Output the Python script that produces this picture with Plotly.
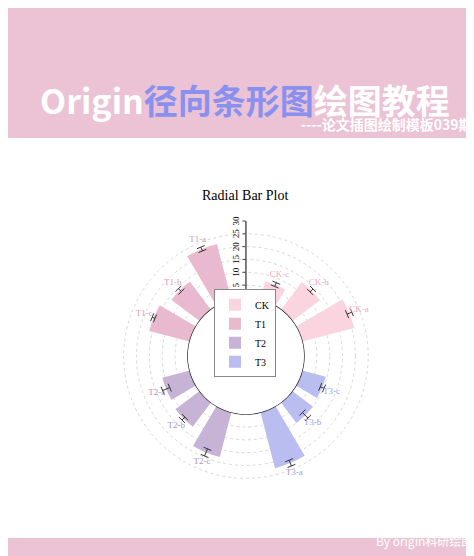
import plotly.graph_objects as go

groups = ["CK", "T3", "T2", "T1"]
labels = {"CK": ["CK-c", "CK-b", "CK-a"], "T3": ["T3-c", "T3-b", "T3-a"],
          "T2": ["T2-c", "T2-b", "T2-a"], "T1": ["T1-c", "T1-b", "T1-a"]}
values = {"CK": [7.5, 13.5, 21.0], "T3": [9.5, 10.0, 22.5],
          "T2": [18.0, 11.8, 11.0], "T1": [16.3, 13.7, 22.5]}
errors = {"CK": [0.8, 0.8, 1.0], "T3": [0.8, 1.5, 1.2],
          "T2": [1.5, 0.8, 1.5], "T1": [0.6, 0.8, 0.8]}
thetas = {"CK": [22.5, 45, 67.5], "T3": [112.5, 135, 157.5],
          "T2": [202.5, 225, 247.5], "T1": [292.5, 315, 337.5]}
group_theta = {"CK": 45, "T3": 135, "T2": 225, "T1": 315}
legend_order = ["CK", "T1", "T2", "T3"]
colors = {"CK": "#fad4df", "T1": "#e9b9cf", "T2": "#c7b3d6", "T3": "#babdf0"}
text_colors = {"CK": "#f0a8bf", "T1": "#d99ab8", "T2": "#a996c0", "T3": "#9a9fe0"}

fig = go.Figure()
for g in legend_order:
    fig.add_trace(go.Barpolar(r=values[g], theta=thetas[g], width=[16]*3, name=g,
                              marker=dict(color=colors[g], line=dict(width=0)),
                              opacity=1))
for g in groups:
    for th, v, e in zip(thetas[g], values[g], errors[g]):
        fig.add_trace(go.Scatterpolar(r=[v - e, v + e], theta=[th, th], mode="lines+markers",
                                      line=dict(color="#333", width=1),
                                      marker=dict(symbol="line-ew-open", size=6, angle=th,
                                                  line=dict(color="#333", width=1)),
                                      showlegend=False, hoverinfo="skip"))
    fig.add_trace(go.Scatterpolar(r=[v + 4 for v in values[g]], theta=thetas[g], mode="text",
                                  text=labels[g], textfont=dict(family="Liberation Serif", size=9,
                                                                color=text_colors[g]),
                                  showlegend=False, cliponaxis=False))
    fig.add_trace(go.Scatterpolar(r=[45], theta=[group_theta[g]], mode="text", text=[g],
                                  textfont=dict(family="Liberation Serif", size=13, color="black"),
                                  showlegend=False, cliponaxis=False))
circle_theta = list(range(0, 361, 2))
fig.add_trace(go.Scatterpolar(r=[0]*len(circle_theta), theta=circle_theta, mode="lines",
                              line=dict(color="#222", width=1.3), showlegend=False, hoverinfo="skip"))

fig.update_layout(
    width=474, height=556, margin=dict(l=0, r=0, t=0, b=0),
    paper_bgcolor="white", plot_bgcolor="white",
    font=dict(family="Liberation Serif", color="black"),
    polar=dict(
        domain=dict(x=[0.217, 0.787], y=[0.131, 0.617]),
        hole=0.43, bgcolor="white",
        radialaxis=dict(range=[0, 30], tickvals=[0, 5, 10, 15, 20, 25, 30], angle=90, tickangle=0,
                        side="counterclockwise", showline=True, linecolor="black", linewidth=1,
                        ticks="outside", ticklen=3, tickfont=dict(size=9, family="Liberation Serif"),
                        gridcolor="#d8d8d8", griddash="dot", showgrid=True),
        angularaxis=dict(rotation=90, direction="clockwise", showticklabels=False, ticks="",
                         showline=False, showgrid=False),
    ),
    legend=dict(x=0.5, y=0.415, xanchor="center", yanchor="middle", bordercolor="#888",
                borderwidth=1, bgcolor="white", font=dict(size=10, family="Liberation Serif"),
                itemwidth=30, tracegroupgap=0),
    shapes=[
        dict(type="rect", xref="paper", yref="paper", x0=0, x1=1, y0=1 - 130/556, y1=1,
             fillcolor="#ebc3d5", line=dict(width=0), layer="below"),
        dict(type="rect", xref="paper", yref="paper", x0=0, x1=1, y0=0, y1=26/556,
             fillcolor="#ebc3d5", line=dict(width=0), layer="below"),
    ],
    annotations=[
        dict(xref="paper", yref="paper", x=0.5, y=1 - 65/556, showarrow=False,
             text="<b><span style='color:white'>Origin</span><span style='color:#8a90ee'>径向条形图</span><span style='color:white'>绘图教程</span></b>",
             font=dict(size=34, family="Noto Sans CJK SC")),
        dict(xref="paper", yref="paper", x=0.985, y=1 - 104/556, xanchor="right", showarrow=False,
             text="<b>----论文插图绘制模板039期</b>", font=dict(size=14, color="white", family="Noto Sans CJK SC")),
        dict(xref="paper", yref="paper", x=0.5, y=1 - 178/556, showarrow=False,
             text="Radial Bar Plot", font=dict(size=14, color="black", family="Liberation Serif")),
        dict(xref="paper", yref="paper", x=0.985, y=13/556, xanchor="right", showarrow=False,
             text="By origin科研绘图", font=dict(size=12, color="white", family="Noto Sans CJK SC")),
    ],
)
fig.write_html("out.html")
